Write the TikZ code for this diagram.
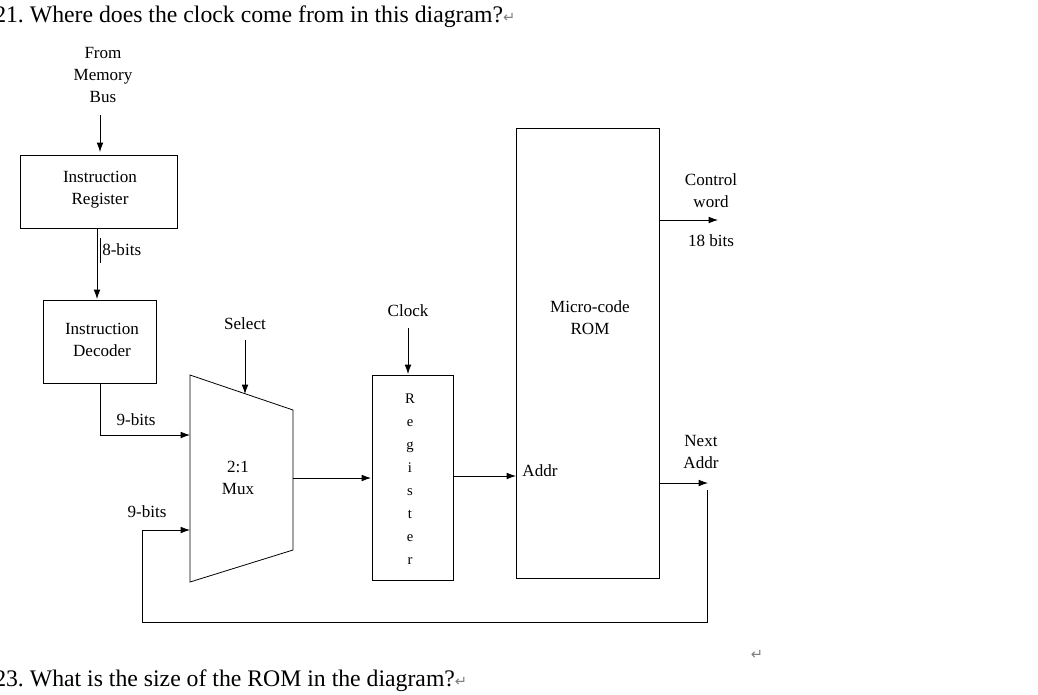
\documentclass[tikz,border=0pt]{standalone}
\usepackage{fontspec}
\setmainfont{Liberation Serif}
\newfontfamily\symf{DejaVu Sans}
\usetikzlibrary{arrows.meta}
\begin{document}
\begin{tikzpicture}[x=0.75pt,y=-0.75pt,
  lab/.style={font=\fontsize{12.8}{13.5}\selectfont,align=center,inner sep=0pt},
  blk/.style={draw,semithick},
  arr/.style={-{Latex[length=7pt,width=5pt]},semithick},
  ln/.style={semithick}]
\useasboundingbox (0,0) rectangle (1038,694);
\node[anchor=base west,inner sep=0pt,font=\fontsize{17.8}{20}\selectfont] (t1) at (-6,22) {21.\ Where does the clock come from in this diagram?{\symf\fontsize{11}{11}\selectfont\color{gray}↵}};
\node[anchor=base west,inner sep=0pt,font=\fontsize{17.8}{20}\selectfont] (t2) at (-6,686) {23.\ What is the size of the ROM in the diagram?{\symf\fontsize{11}{11}\selectfont\color{gray}↵}};
\node[inner sep=0pt,font=\symf\fontsize{11}{11}\selectfont,text=gray] (ret) at (757,655) {↵};

\node[lab] (from) at (103,75) {From\\[3pt]Memory\\[3pt]Bus};
\draw[blk] (20,155) rectangle (177,228);
\coordinate (irt) at (100,152);
\node[lab] (ir) at (100,190) {Instruction\\[3pt]Register};
\draw[arr] (100,115) -- (irt);
\draw[blk] (43,300) rectangle (156,383);
\node[lab] (id) at (102,340) {Instruction\\[3pt]Decoder};
\coordinate (a1) at (97,228); \coordinate (a2) at (97,299);
\draw[arr] (a1) -- (a2);
\node[lab,anchor=west] (b8) at (102,250) {8-bits};
\draw[ln] (100,238) -- (100,263);

\draw[blk] (190,375) -- (293,410) -- (293,550) -- (190,582) -- cycle;
\node[lab] (mux) at (238,478) {2:1\\[3pt]Mux};
\coordinate (m1) at (190,435); \coordinate (m2) at (190,530);
\draw[arr] (100,383) -- (100,435) -- (m1);
\node[lab] (b9a) at (136,420) {9-bits};
\node[lab] (sel) at (245,324) {Select};
\draw[arr] (245,340) -- (245,394);

\draw[blk] (372,375) rectangle (453,580);
\node[lab,align=center,font=\fontsize{11}{17.3}\selectfont] (reg) at (410,479) {R\\e\\g\\i\\s\\t\\e\\r};
\draw[arr] (293,478) -- (371,478);
\node[lab] (clk) at (408,311) {Clock};
\draw[arr] (408,328) -- (408,374);

\draw[blk] (516,128) rectangle (659,578);
\node[lab] (rom) at (590,318) {Micro-code\\[3pt]ROM};
\draw[arr] (453,476) -- (516,476);
\node[lab] (addr) at (540,471) {Addr};
\node[lab] (cw) at (711,191) {Control\\[3pt]word};
\draw[arr] (659,220) -- (718,220);
\node[lab] (b18) at (711,241) {18 bits};
\node[lab] (na) at (701,452) {Next\\[3pt]Addr};
\draw[arr] (659,483) -- (708,483);
\draw[arr] (707,490) -- (707,622) -- (142,622) -- (142,530) -- (m2);
\node[lab] (b9b) at (147,512) {9-bits};
\end{tikzpicture}
\end{document}
